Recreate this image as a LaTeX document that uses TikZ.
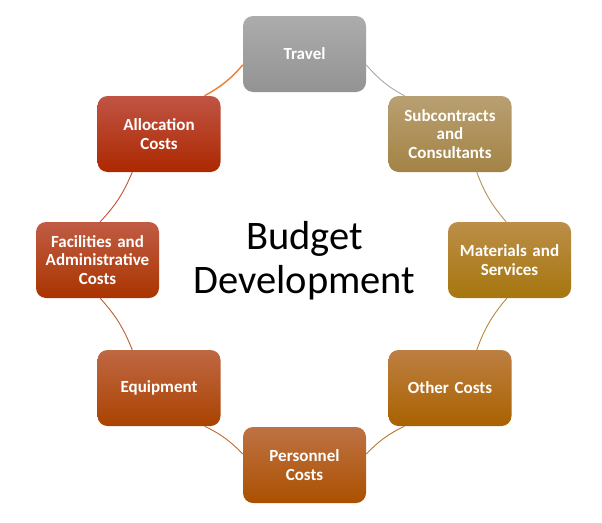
\documentclass[tikz,border=0pt]{standalone}
\usepackage{fontspec}
\setmainfont{Carlito}
\begin{document}
\begin{tikzpicture}[x=1pt,y=-1pt,
  box/.style={rounded corners=10pt, minimum width=123pt, minimum height=76pt,
    inner sep=2pt, align=center, text=white, font=\fontsize{17}{18.7}\selectfont\bfseries,
    text width=118pt},
  link/.style={line width=0.9pt},
]
\definecolor{trT}{HTML}{ACACAC}\definecolor{trM}{HTML}{A0A0A0}\definecolor{trB}{HTML}{939393}
\definecolor{suT}{HTML}{B9A072}\definecolor{suM}{HTML}{AE9054}\definecolor{suB}{HTML}{A38345}
\definecolor{maT}{HTML}{BC8E48}\definecolor{maM}{HTML}{B07D1C}\definecolor{maB}{HTML}{A6760E}
\definecolor{otT}{HTML}{BD7F42}\definecolor{otM}{HTML}{B36B06}\definecolor{otB}{HTML}{A96200}
\definecolor{peT}{HTML}{BE7244}\definecolor{peM}{HTML}{B45A08}\definecolor{peB}{HTML}{AA5000}
\definecolor{eqT}{HTML}{BF6844}\definecolor{eqM}{HTML}{B44A06}\definecolor{eqB}{HTML}{AA4200}
\definecolor{faT}{HTML}{C05C44}\definecolor{faM}{HTML}{B43C06}\definecolor{faB}{HTML}{AA3400}
\definecolor{alT}{HTML}{C05444}\definecolor{alM}{HTML}{B82E04}\definecolor{alB}{HTML}{AC2800}
\definecolor{lnA}{HTML}{A8A8A8}\definecolor{lnB}{HTML}{B39258}\definecolor{lnC}{HTML}{B8883A}
\definecolor{lnD}{HTML}{B97630}\definecolor{lnE}{HTML}{BC6A30}\definecolor{lnF}{HTML}{BE5E30}
\definecolor{lnG}{HTML}{C0522A}\definecolor{lnH}{HTML}{ED7D31}
\useasboundingbox (0,0) rectangle (602,522);
\node[box, top color=trT, middle color=trM, bottom color=trB] (trav) at (304.5,54) {Travel};
\node[box, top color=suT, middle color=suM, bottom color=suB] (sub) at (450,134) {Subcontracts\\and\\Consultants};
\node[box, top color=maT, middle color=maM, bottom color=maB] (mat) at (509.5,260) {Materials and\\Services};
\node[box, top color=otT, middle color=otM, bottom color=otB] (oth) at (450,388) {Other Costs};
\node[box, top color=peT, middle color=peM, bottom color=peB] (pers) at (304.5,465) {Personnel\\Costs};
\node[box, top color=eqT, middle color=eqM, bottom color=eqB] (equ) at (159,388) {Equipment};
\node[box, top color=faT, middle color=faM, bottom color=faB] (fac) at (97.5,260) {Facilities and\\Administrative\\Costs};
\node[box, top color=alT, middle color=alM, bottom color=alB] (alloc) at (159,134) {Allocation\\Costs};
\node[align=center, inner sep=0pt, font=\fontsize{40.5}{44}\selectfont] (title) at (304.5,260.5) {Budget\\Development};
\draw[link, lnA] (trav.-10) to[bend right=10] (sub.140);
\draw[link, lnB] (sub.-55) to[bend right=10] (mat.95);
\draw[link, lnC] (mat.-94) to[bend right=10] (oth.55);
\draw[link, lnD] (oth.-140) to[bend right=10] (pers.10);
\draw[link, lnE] (pers.170) to[bend right=10] (equ.-40);
\draw[link, lnF] (equ.125) to[bend right=10] (fac.-86);
\draw[link, lnG] (fac.86) to[bend right=10] (alloc.-125);
\draw[line width=1.4pt, lnH] (alloc.40) to[bend right=10] (trav.190);
\end{tikzpicture}
\end{document}
